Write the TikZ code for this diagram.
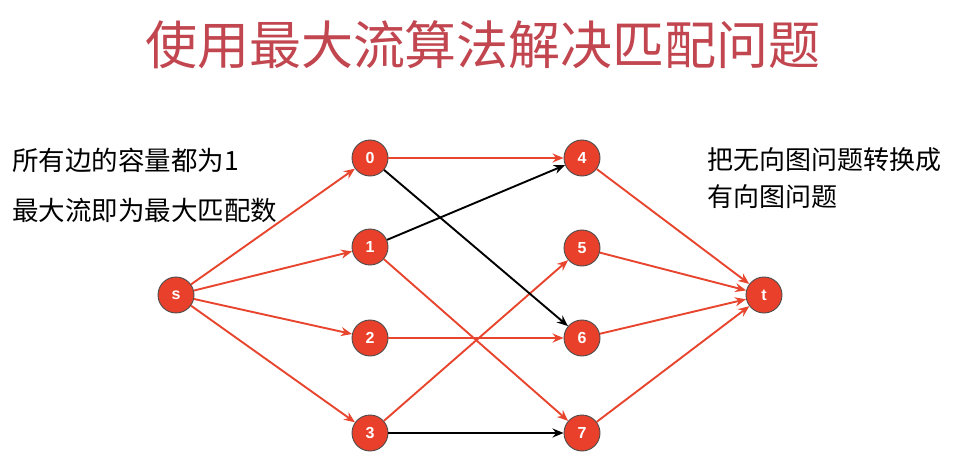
\documentclass[tikz,border=0pt]{standalone}
\usepackage{fontspec}
\setmainfont{Noto Sans CJK SC}
\newfontfamily\cjk{Noto Sans CJK SC}
\newfontfamily\lab{Liberation Sans}
\usetikzlibrary{arrows.meta}
\definecolor{nodered}{HTML}{E8402A}
\definecolor{titlered}{HTML}{C2464F}
\definecolor{edgered}{HTML}{E8452E}
\begin{document}
\begin{tikzpicture}[x=1pt,y=-1pt,
  vtx/.style={circle,fill=nodered,draw=black!70,line width=0.9pt,minimum size=36pt,inner sep=0pt,font=\lab\bfseries\fontsize{16}{16}\selectfont,text=white},
  redge/.style={draw=edgered,line width=1.9pt,-{Stealth[length=11pt,width=9pt]}},
  bedge/.style={draw=black,line width=1.9pt,-{Stealth[length=11pt,width=9pt]}},
  txt/.style={font=\cjk\fontsize{26.5}{26.5}\selectfont,anchor=west,inner sep=0pt}]
\useasboundingbox (0,0) rectangle (954,466);
\fill[white] (0,0) rectangle (954,466);
\node[font=\cjk\fontsize{52}{52}\selectfont,text=titlered,inner sep=0pt] (title) at (483,45) {使用最大流算法解决匹配问题};
\node[txt] (l1) at (12,160) {所有边的容量都为1};
\node[txt] (l2) at (12,210) {最大流即为最大匹配数};
\node[txt,font=\cjk\fontsize{26}{26}\selectfont] (r1) at (707,160) {把无向图问题转换成};
\node[txt,font=\cjk\fontsize{26}{26}\selectfont] (r2) at (707,197) {有向图问题};
\node[vtx] (s) at (176,295) {s};
\node[vtx] (t) at (764,295) {t};
\node[vtx] (n0) at (370,158) {0};
\node[vtx] (n1) at (370,247) {1};
\node[vtx] (n2) at (370,338) {2};
\node[vtx] (n3) at (370,433) {3};
\node[vtx] (n4) at (582,158) {4};
\node[vtx] (n5) at (582,248) {5};
\node[vtx] (n6) at (582,338) {6};
\node[vtx] (n7) at (582,433) {7};
\draw[redge] (s) -- (n0);
\draw[redge] (s) -- (n1);
\draw[redge] (s) -- (n2);
\draw[redge] (s) -- (n3);
\draw[redge] (n0) -- (n4);
\draw[redge] (n1) -- (n7);
\draw[redge] (n2) -- (n6);
\draw[redge] (n3) -- (n5);
\draw[bedge] (n0) -- (n6);
\draw[bedge] (n1) -- (n4);
\draw[bedge] (n3) -- (n7);
\draw[redge] (n4) -- (t);
\draw[redge] (n5) -- (t);
\draw[redge] (n6) -- (t);
\draw[redge] (n7) -- (t);
\end{tikzpicture}
\end{document}
